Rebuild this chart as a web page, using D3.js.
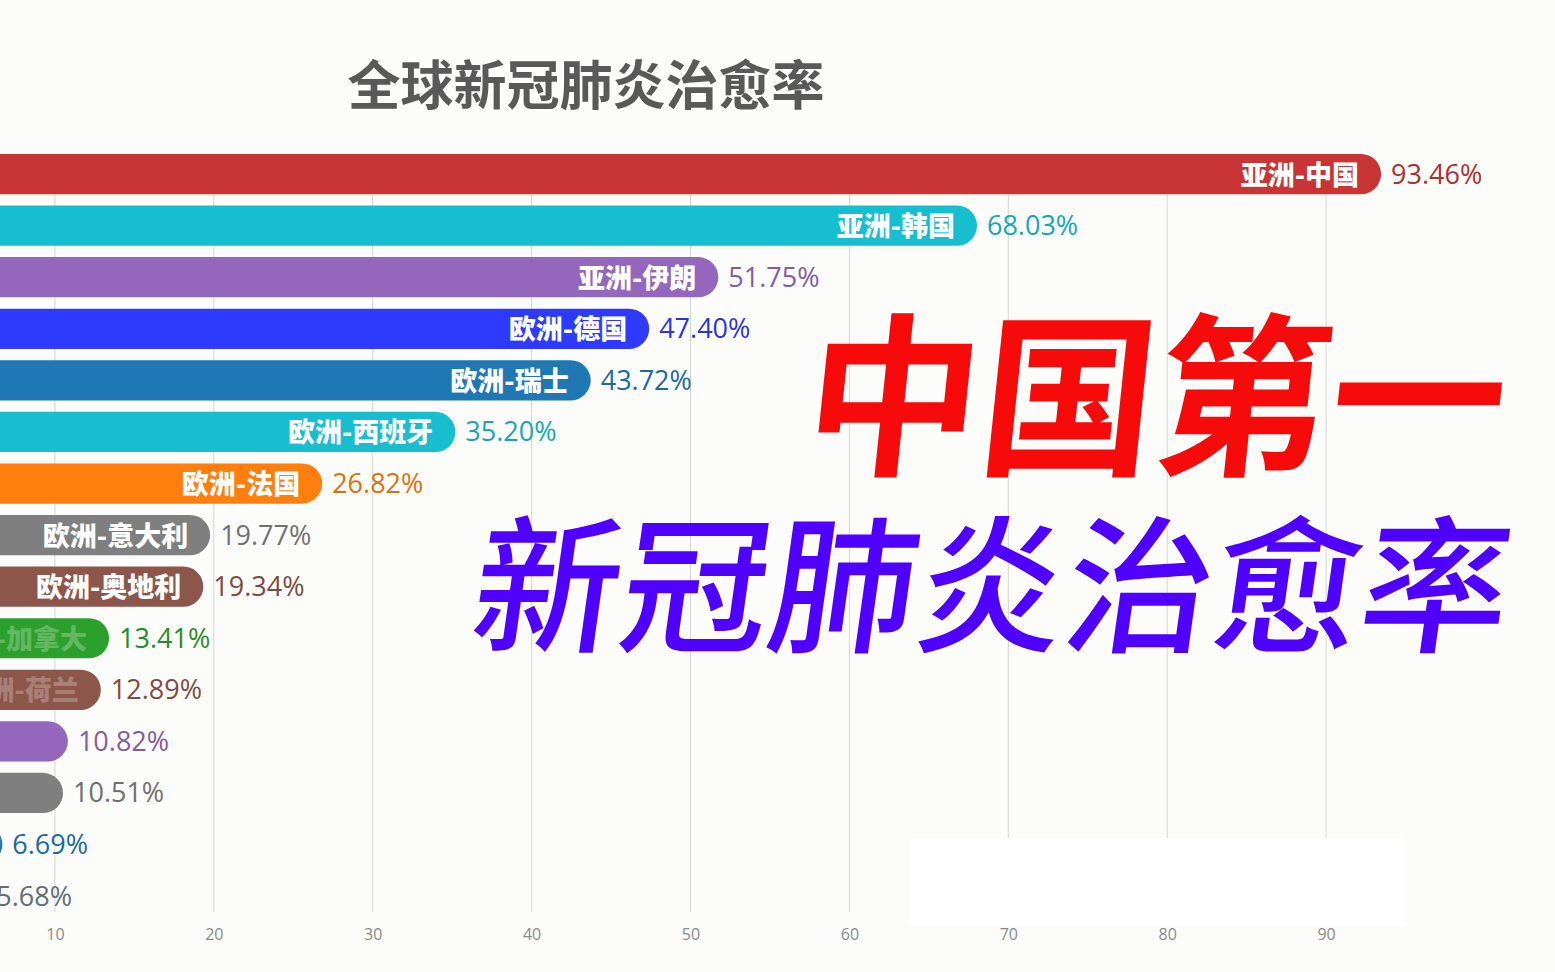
<html>
<head>
    <meta charset="utf-8">
    <title>全球新冠肺炎治愈率</title>
    <style>
        body{margin:0;background:#fcfdfb;overflow:hidden;}
    </style>
</head>
<body>
<script src="https://cdn.jsdelivr.net/npm/d3@7"></script>
<script>
    var width=1555;
    var height=972;

    // 数据
    var names=["亚洲-中国","亚洲-韩国","亚洲-伊朗","欧洲-德国","欧洲-瑞士","欧洲-西班牙","欧洲-法国","欧洲-意大利","欧洲-奥地利","北美洲-加拿大","欧洲-荷兰","亚洲-日本","北美洲-美国","欧洲-英国","欧洲-挪威"];
    var rates=[93.46,68.03,51.75,47.40,43.72,35.20,26.82,19.77,19.34,13.41,12.89,10.82,10.51,6.69,5.68];
    var tickValues=[10,20,30,40,50,60,70,80,90];
    var palette=["#c93434","#17becf","#9467bd","#2f3aff","#1f77b4","#17becf","#ff7f0e","#7f7f7f","#8c564b","#2ca02c","#8c564b","#9467bd","#7f7f7f","#1f77b4","#6e7c88"];

    var svg=d3.select('body')
            .append('svg')
            .attr('width',width)
            .attr('height',height);

    svg.append('rect').attr('width',width).attr('height',height).attr('fill','#fcfdfb');

    var x=d3.scaleLinear()
            .domain([0,100])
            .range([-104,1485]);
    var y=d3.scaleBand()
            .domain(names)
            .range([148.3,921.9])
            .paddingInner(0.22)
            .paddingOuter(0.11);
    var color=d3.scaleOrdinal()
            .domain(names)
            .range(palette);

    // 网格线
    svg.append('g').selectAll('line')
            .data(tickValues)
            .enter()
            .append('line')
            .attr('x1',function(d){return x(d);})
            .attr('x2',function(d){return x(d);})
            .attr('y1',154)
            .attr('y2',912)
            .attr('stroke','#d4d4d4')
            .attr('stroke-width',1);

    // 横轴
    var axis=svg.append('g')
            .attr('transform','translate(0,929)')
            .call(d3.axisBottom(x).tickValues(tickValues).tickSize(0).tickPadding(0));
    axis.select('.domain').remove();
    axis.selectAll('text')
            .attr('fill','#8a8a8a')
            .attr('font-size',16)
            .attr('font-family','"Open Sans","Noto Sans CJK SC",sans-serif');

    // 右下角白块
    svg.append('rect')
            .attr('x',910).attr('y',838)
            .attr('width',495).attr('height',87)
            .attr('fill','#ffffff');

    var rows=svg.append('g').selectAll('g')
            .data(names)
            .enter()
            .append('g');

    rows.append('rect')
            .attr('x',x(0)-40)
            .attr('y',function(d){return y(d);})
            .attr('width',function(d,i){return x(rates[i])-x(0)+40;})
            .attr('height',y.bandwidth())
            .attr('rx',y.bandwidth()/2)
            .attr('fill',function(d){return color(d);});

    rows.append('text')
            .attr('x',function(d,i){return x(rates[i])-22;})
            .attr('y',function(d){return y(d)+y.bandwidth()/2-1;})
            .attr('text-anchor','end')
            .attr('dominant-baseline','central')
            .attr('font-size',27)
            .attr('font-weight',900)
            .attr('font-family','"Noto Sans CJK SC",sans-serif')
            .attr('fill','#ffffff')
            .attr('opacity',function(d,i){return i<9?1:(i<11?0.25:0);})
            .text(function(d){return d;});

    rows.append('text')
            .attr('x',function(d,i){return x(rates[i])+10;})
            .attr('y',function(d){return y(d)+y.bandwidth()/2-1;})
            .attr('dominant-baseline','central')
            .attr('font-size',27)
            .attr('font-family','"Open Sans","Noto Sans CJK SC",sans-serif')
            .attr('fill',function(d){return d3.color(color(d)).darker(0.35);})
            .text(function(d,i){return rates[i].toFixed(2)+'%';});

    // 标题
    svg.append('text')
            .attr('x',586)
            .attr('y',105)
            .attr('text-anchor','middle')
            .attr('font-size',53)
            .attr('font-weight',700)
            .attr('font-family','"Noto Sans CJK SC",sans-serif')
            .attr('fill','#595959')
            .text('全球新冠肺炎治愈率');

    // 大字
    svg.append('g')
            .attr('transform','translate(800,462) skewX(-6)')
            .append('text')
            .attr('font-size',175)
            .attr('font-weight',700)
            .attr('font-family','"Noto Sans CJK SC",sans-serif')
            .attr('fill','#f60a0a')
            .text('中国第一');

    svg.append('g')
            .attr('transform','translate(467,641) skewX(-8)')
            .append('text')
            .attr('font-size',148)
            .attr('font-weight',500)
            .attr('font-family','"Noto Sans CJK SC",sans-serif')
            .attr('fill','#4f00ff')
            .text('新冠肺炎治愈率');
</script>
</body>
</html>
